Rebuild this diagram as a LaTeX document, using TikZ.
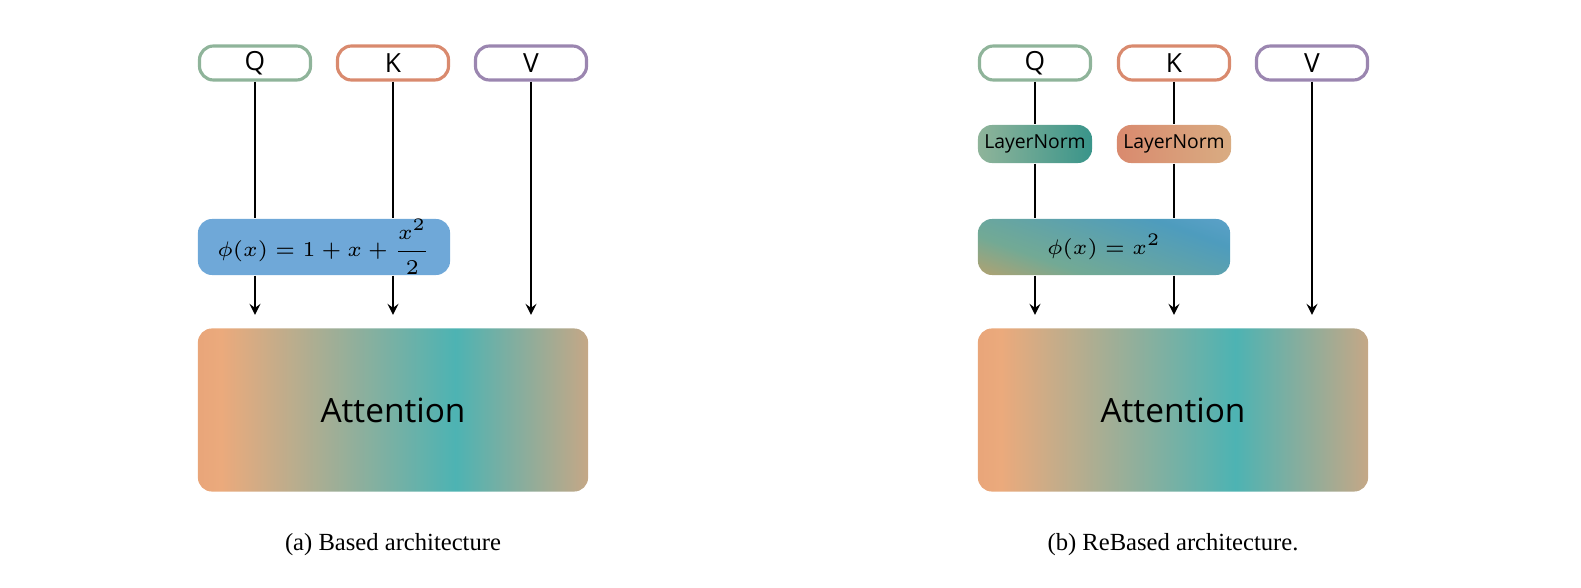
\documentclass[tikz,border=0pt]{standalone}
\usepackage{amsmath}
\usepackage{fontspec}
\setmainfont{Liberation Serif}
\newfontfamily\ui{Open Sans}
\definecolor{qc}{HTML}{8FB49A}
\definecolor{kc}{HTML}{D98A6E}
\definecolor{vc}{HTML}{9B86B0}
\definecolor{phic}{HTML}{6FA8D8}
\definecolor{aA}{HTML}{D9806A}
\definecolor{aB}{HTML}{EBAA7C}
\definecolor{aC}{HTML}{4DB3B3}
\definecolor{aD}{HTML}{E8A479}
\definecolor{aE}{HTML}{E59A70}
\pgfdeclarehorizontalshading{att}{100bp}{color(0bp)=(aA); color(28bp)=(aB); color(58bp)=(aC); color(80bp)=(aD); color(100bp)=(aE)}
\pgfdeclarehorizontalshading{phir}{100bp}{color(0bp)=(aB!60!orange); color(35bp)=(qc!80!teal); color(70bp)=(phic!70!teal); color(100bp)=(phic)}
\begin{document}
\begin{tikzpicture}[x=0.01cm,y=-0.01cm,
  inbox/.style={draw=#1,line width=0.9pt,rounded corners=4pt,minimum width=1.11cm,minimum height=0.34cm,inner sep=0pt,font=\ui\fontsize{7.5}{8}\selectfont},
  attbox/.style={shading=att,shading angle=0,rounded corners=4pt,minimum width=3.9cm,minimum height=1.63cm,font=\ui\fontsize{9.5}{10}\selectfont},
  lnbox/.style={rounded corners=4pt,minimum width=1.14cm,minimum height=0.38cm,inner sep=0pt,font=\ui\fontsize{5.5}{6}\selectfont},
  phibox/.style={rounded corners=4pt,minimum width=2.52cm,minimum height=0.56cm,inner sep=0pt,font=\fontsize{6}{7}\selectfont},
  arr/.style={->,>=stealth,line width=0.4pt,shorten >=4pt},
  ln/.style={line width=0.4pt},
  captext/.style={font=\fontsize{7}{8}\selectfont}]
\useasboundingbox (0,0) rectangle (1581,588);
% left
\node[inbox=qc] (q1) at (255,63) {Q};
\node[inbox=kc] (k1) at (393,63) {K};
\node[inbox=vc] (v1) at (531,63) {V};
\node[phibox,fill=phic] (p1) at (324,247) {$\phi(x)=1+x+\dfrac{x^2}{2}$};
\node[attbox] (a1) at (393,410) {Attention};
\coordinate (a1q) at (255,329); \coordinate (a1k) at (393,329); \coordinate (a1v) at (531,329);
\draw[ln] (q1) -- (q1|-p1.north); \draw[ln] (k1) -- (k1|-p1.north);
\draw[arr] (q1|-p1.south) -- (a1q); \draw[arr] (k1|-p1.south) -- (a1k);
\draw[arr] (v1) -- (a1v);
\node[captext] (c1) at (393,545) {(a) Based architecture};
% right
\node[inbox=qc] (q2) at (1035,63) {Q};
\node[inbox=kc] (k2) at (1174,63) {K};
\node[inbox=vc] (v2) at (1312,63) {V};
\node[lnbox,left color=qc,right color=teal!60!qc] (l1) at (1035,144) {LayerNorm};
\node[lnbox,left color=kc,right color=aB!80!qc] (l2) at (1174,144) {LayerNorm};
\node[phibox,shading=phir,shading angle=70] (p2) at (1104,247) {$\phi(x)=x^2$};
\node[attbox] (a2) at (1173,410) {Attention};
\coordinate (a2q) at (1036,329); \coordinate (a2k) at (1179,329); \coordinate (a2v) at (1312,329);
\draw[ln] (q2) -- (l1); \draw[ln] (k2) -- (l2);
\draw[ln] (l1) -- (l1|-p2.north); \draw[ln] (l2) -- (l2|-p2.north);
\draw[arr] (l1|-p2.south) -- (l1|-a2q); \draw[arr] (l2|-p2.south) -- (l2|-a2k);
\draw[arr] (v2) -- (a2v);
\node[captext] (c2) at (1173,545) {(b) ReBased architecture.};
\end{tikzpicture}
\end{document}
